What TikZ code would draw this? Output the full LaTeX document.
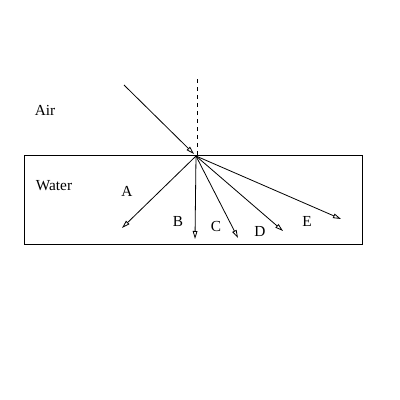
\documentclass[tikz,border=0pt]{standalone}
\usepackage{fontspec}
\setmainfont{Liberation Serif}
\usetikzlibrary{arrows.meta, positioning}
\tikzset{ray/.style={-{Triangle[open, length=6pt, width=3.5pt]}, line width=0.6pt}}

\begin{document}
\begin{tikzpicture}[x=0.75pt, y=-0.75pt, font=\fontsize{11.5}{13}\selectfont]
    \useasboundingbox (0,0) rectangle (400,400);
    \node[draw, line width=0.7pt, minimum width=253.5pt, minimum height=66.75pt, inner sep=0pt] (W) at (193,199.5) {};
    \coordinate (O) at (196,156);
    \coordinate (Top) at (197,79);
    \coordinate (Src) at (124,85);
    \coordinate (Hit) at (194,154);
    \coordinate (TA) at (122,228);
    \coordinate (TB) at (195,239);
    \coordinate (TC) at (238,238);
    \coordinate (TD) at (283,231);
    \coordinate (TE) at (341,219);
    \node	(Air)	 at 	(45,110) 	{Air};
    \node	(Water)	 at 	(54,186) 	{Water};
    \node	(LA)	 at 	(127,191) 	{A};
    \node	(LB)	 at 	(178,221) 	{B};
    \node	(LC)	 at 	(216,226) 	{C};
    \node	(LD)	 at 	(260,231) 	{D};
    \node	(LE)	 at 	(307,221) 	{E};
    \draw[dashed, line width=0.6pt](Top) -- (W.north -| Top) ;
    \draw[ray](Src) -- (Hit) ;
    \draw[ray](O) -- (TA) ;
    \draw[ray](O) -- (TB) ;
    \draw[ray](O) -- (TC) ;
    \draw[ray](O) -- (TD) ;
    \draw[ray](O) -- (TE) ;
\end{tikzpicture}
\end{document}
